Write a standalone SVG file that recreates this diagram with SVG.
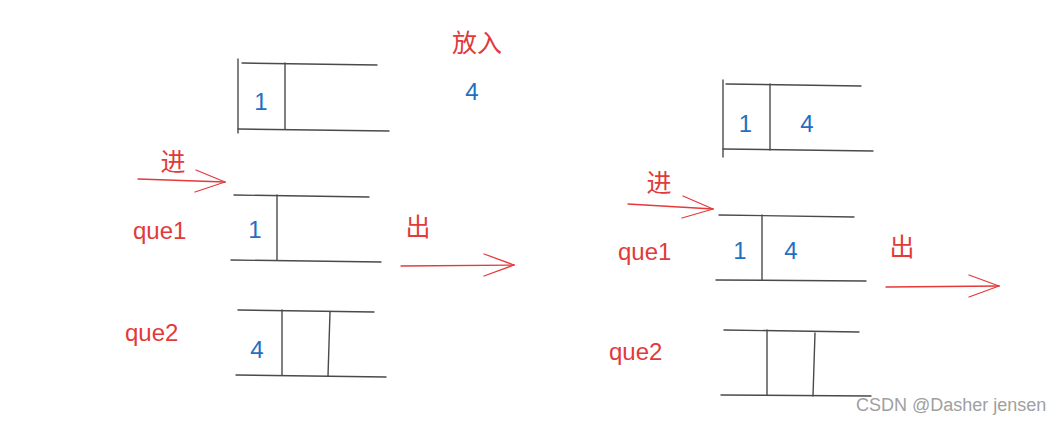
<svg xmlns="http://www.w3.org/2000/svg" width="1060" height="424" viewBox="0 0 1060 424">
<style>
.box line, .box path{stroke:#4a4a4a;stroke-width:1.4;fill:none;stroke-linecap:round}
.num{font-family:"Liberation Sans",Arial,sans-serif;font-size:24px;fill:#1f70c1;text-anchor:middle}
.lbl{font-family:"Liberation Sans",Arial,sans-serif;font-size:24px;fill:#e23a3a}
.cjk{font-family:"Noto Sans CJK SC","Noto Sans",sans-serif;font-size:25px;fill:#e23a3a;text-anchor:middle}
.arr line{stroke:#e5393b;stroke-width:1.3;stroke-linecap:round}
.wm{font-family:"Liberation Sans",Arial,sans-serif;font-size:18px;fill:#a0a0a0}
</style>
<rect width="1060" height="424" fill="#ffffff"/>

<!-- Left diagram -->
<g id="left-top-queue" class="box">
  <line x1="238" y1="59" x2="238" y2="133"/>
  <line x1="242" y1="63" x2="377" y2="65"/>
  <line x1="238" y1="129" x2="389" y2="131"/>
  <line x1="285" y1="63" x2="285" y2="129"/>
  <text class="num" x="261" y="110">1</text>
</g>
<g id="left-put-label">
  <text class="cjk" x="477" y="52">放入</text>
  <text class="num" x="472" y="100">4</text>
</g>
<g id="left-in-label">
  <text class="cjk" x="173" y="171">进</text>
</g>
<g id="left-que1" class="box">
  <text class="lbl" x="133" y="239">que1</text>
  <line x1="234" y1="195" x2="369" y2="197"/>
  <line x1="231" y1="260" x2="381" y2="262"/>
  <line x1="277" y1="195" x2="277" y2="260"/>
  <text class="num" x="255" y="238">1</text>
</g>
<g id="left-out-label">
  <text class="cjk" x="418" y="236">出</text>
</g>
<g id="left-que2" class="box">
  <text class="lbl" x="125" y="341">que2</text>
  <line x1="238" y1="310" x2="374" y2="312"/>
  <line x1="236" y1="375" x2="386" y2="377"/>
  <line x1="282" y1="310" x2="282" y2="375"/>
  <line x1="330" y1="312" x2="328" y2="376"/>
  <text class="num" x="257" y="358">4</text>
</g>

<!-- Right diagram -->
<g id="right-top-queue" class="box">
  <line x1="723" y1="80" x2="723" y2="157"/>
  <line x1="726" y1="84" x2="861" y2="86"/>
  <line x1="723" y1="149" x2="873" y2="151"/>
  <line x1="770" y1="84" x2="770" y2="150"/>
  <text class="num" x="745.5" y="132">1</text>
  <text class="num" x="807" y="132">4</text>
</g>
<g id="right-in-label">
  <text class="cjk" x="659" y="192">进</text>
</g>
<g id="right-que1" class="box">
  <text class="lbl" x="618" y="260">que1</text>
  <line x1="719" y1="215" x2="854" y2="217"/>
  <line x1="716" y1="280" x2="866" y2="281"/>
  <line x1="762" y1="215" x2="762" y2="280"/>
  <text class="num" x="740" y="259">1</text>
  <text class="num" x="791" y="259">4</text>
</g>
<g id="right-out-label">
  <text class="cjk" x="902" y="256">出</text>
</g>
<g id="right-que2" class="box">
  <text class="lbl" x="609" y="360">que2</text>
  <line x1="724" y1="330" x2="859" y2="332"/>
  <line x1="721" y1="395" x2="871" y2="396"/>
  <line x1="767" y1="330" x2="767" y2="395"/>
  <line x1="815" y1="333" x2="813" y2="396"/>
</g>

<!-- Connectors -->
<g id="connectors" class="arr">
  <g id="left-in-arrow">
    <line x1="138" y1="179" x2="225" y2="182"/>
    <line x1="196" y1="170" x2="225" y2="182"/>
    <line x1="195" y1="192" x2="225" y2="182"/>
  </g>
  <g id="left-out-arrow">
    <line x1="401" y1="266" x2="514" y2="265"/>
    <line x1="484" y1="254" x2="514" y2="265"/>
    <line x1="484" y1="276" x2="514" y2="265"/>
  </g>
  <g id="right-in-arrow">
    <line x1="628" y1="204" x2="713" y2="209"/>
    <line x1="683" y1="196" x2="713" y2="209"/>
    <line x1="682" y1="218" x2="713" y2="209"/>
  </g>
  <g id="right-out-arrow">
    <line x1="886" y1="287" x2="999" y2="286"/>
    <line x1="969" y1="275" x2="999" y2="286"/>
    <line x1="969" y1="297" x2="999" y2="286"/>
  </g>
</g>

<text class="wm" x="856" y="411">CSDN @Dasher jensen</text>
</svg>
